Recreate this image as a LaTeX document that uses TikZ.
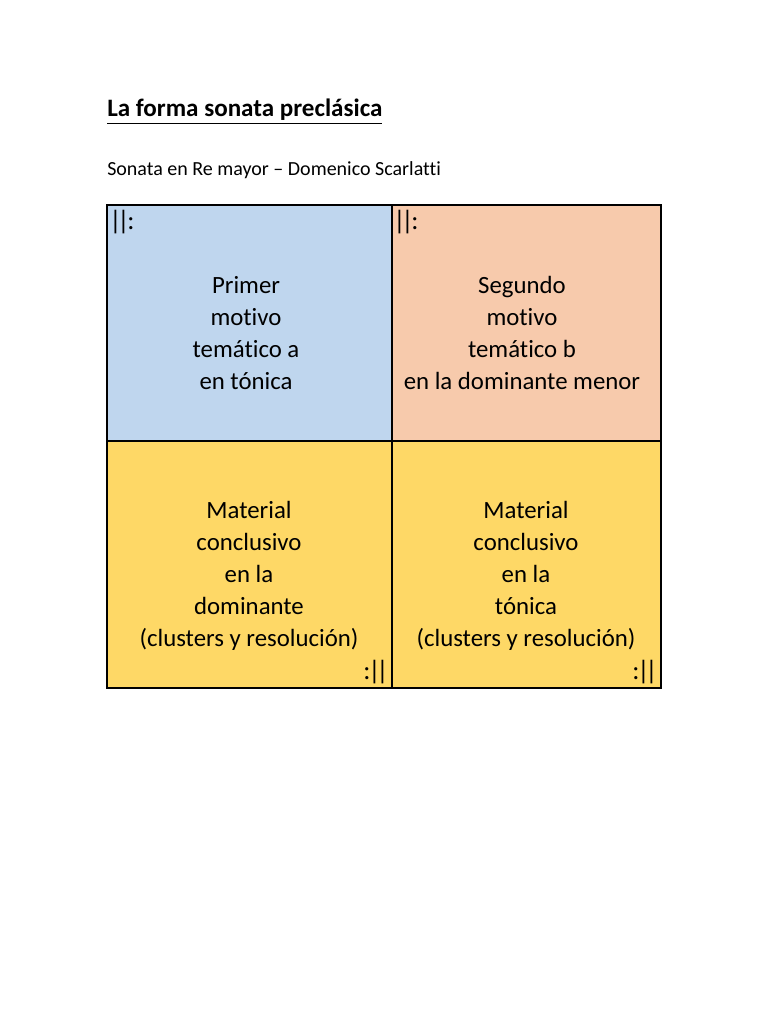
\documentclass[tikz,border=0pt]{standalone}
\usepackage{fontspec}
\usepackage{xcolor}
\setmainfont{Carlito}[Ligatures={NoCommon}]
\usetikzlibrary{positioning}

\definecolor{celeste}{HTML}{BFD6EE}
\definecolor{salmon}{HTML}{F7CAAC}
\definecolor{amarillo}{HTML}{FED866}

% repeat signs
\newcommand{\repini}{|\kern-3.2pt|\kern-1.6pt:}
\newcommand{\repfin}{:\kern-1.6pt|\kern-3.2pt|}

\begin{document}
\begin{tikzpicture}[x=0.75pt, y=-0.75pt,
    cell/.style={draw, line width=0.8pt},
    texto/.style={align=center, font=\fontsize{18.6}{24}\selectfont},
    rep/.style={font=\fontsize{20}{24}\selectfont, inner sep=0pt}]
    % Page
    \useasboundingbox[fill=white] (0,0) rectangle (768,1024);
    % Title
    \node[anchor=base west, inner sep=0pt, font=\fontsize{18.8}{24}\selectfont\bfseries] (titulo) at (107,117) {\underline{La forma sonata preclásica}};
    \node[anchor=base west, inner sep=0pt, font=\fontsize{15}{18}\selectfont] (sub) at (107,175) {Sonata en Re mayor – Domenico Scarlatti};
    % Cells
    \fill[celeste] (107,205) rectangle (392,441);
    \fill[salmon] (392,205) rectangle (661,441);
    \fill[amarillo] (107,441) rectangle (661,688);
    \draw[cell] (107,205) rectangle (661,688);
    \draw[cell] (392,205) -- (392,688);
    \draw[cell] (107,441) -- (661,441);
    % Top row
    \node[texto] (a) at (246,333) {Primer\\motivo\\temático a\\en tónica};
    \node[texto] (b) at (522,333) {Segundo\\motivo\\temático b\\en la dominante menor};
    \node[rep, anchor=north west] (ra) at (109,210) {\repini};
    \node[rep, anchor=north west] (rb) at (393,210) {\repini};
    % Bottom row
    \node[texto] (c) at (249,576) {Material\\conclusivo\\en la\\dominante\\(clusters y resolución)};
    \node[texto] (d) at (526,576) {Material\\conclusivo\\en la\\tónica\\(clusters y resolución)};
    \node[rep, anchor=south east] (rc) at (389,684) {\repfin};
    \node[rep, anchor=south east] (rd) at (658,684) {\repfin};
\end{tikzpicture}
\end{document}
